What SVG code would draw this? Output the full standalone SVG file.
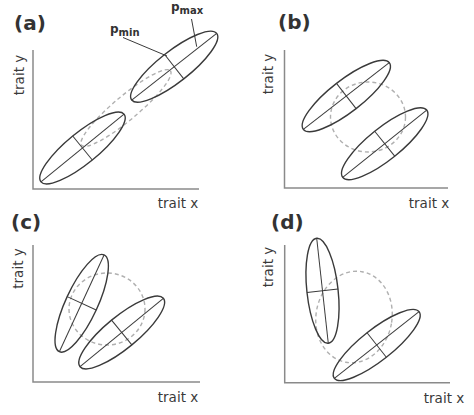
<svg xmlns="http://www.w3.org/2000/svg" width="474" height="415" viewBox="0 0 474 415">
<defs>
<style>
.ax{stroke:#8a8a8a;stroke-width:1.5;fill:none}
.el{stroke:#3a3a3a;stroke-width:1.4;fill:none}
.ln{stroke:#3a3a3a;stroke-width:1;fill:none}
.dash{stroke:#b0b0b0;stroke-width:1.4;fill:none;stroke-dasharray:4 3}
.lead{stroke:#3a3a3a;stroke-width:1;fill:none}
.lbl{font-family:"DejaVu Sans",Verdana,sans-serif;font-size:13.5px;fill:#3a3a3a}
.pl{font-family:"DejaVu Sans",Verdana,sans-serif;font-weight:bold;font-size:20px;fill:#333}
.pm{font-family:"DejaVu Sans",Verdana,sans-serif;font-weight:bold;font-size:12px;fill:#333}
</style>
</defs>
<rect width="474" height="415" fill="#fff"/>

<!-- Panel a -->
<g id="panel-a">
  <text class="pl" x="14" y="30">(a)</text>
  <path class="ax" d="M33,50 V189 H199"/>
  <text class="lbl" x="178" y="208" text-anchor="middle">trait x</text>
  <text class="lbl" transform="translate(24,75) rotate(-90)" text-anchor="middle">trait y</text>
  <g id="a-dashed" transform="translate(126,108) rotate(-40)"><ellipse class="dash" rx="58" ry="12"/></g>
  <g id="a-ell1" transform="translate(82.5,148) rotate(-39.2)">
    <ellipse class="el" rx="53.6" ry="15.5"/><line class="ln" x1="-53.6" y1="0" x2="53.6" y2="0"/><line class="ln" x1="0" y1="-15.5" x2="0" y2="15.5"/>
  </g>
  <g id="a-ell2" transform="translate(174.2,66.7) rotate(-38.1)">
    <ellipse class="el" rx="54" ry="15.5"/><line class="ln" x1="-54" y1="0" x2="54" y2="0"/><line class="ln" x1="0" y1="-15.5" x2="0" y2="15.5"/>
  </g>
  <g id="label-pmin"><text class="pm" x="110" y="33">p<tspan font-size="10" dy="3">min</tspan></text></g>
  <g id="label-pmax"><text class="pm" x="171" y="11">p<tspan font-size="10" dy="3">max</tspan></text></g>
</g>

<!-- Panel b -->
<g id="panel-b">
  <text class="pl" x="278" y="29">(b)</text>
  <path class="ax" d="M284.5,50 V188 H448"/>
  <text class="lbl" x="429" y="208" text-anchor="middle">trait x</text>
  <text class="lbl" transform="translate(273,74) rotate(-90)" text-anchor="middle">trait y</text>
  <g id="b-dashed"><ellipse class="dash" cx="368" cy="117" rx="37.5" ry="35"/></g>
  <g id="b-ell1" transform="translate(346.3,96) rotate(-37.8)">
    <ellipse class="el" rx="54.4" ry="16"/><line class="ln" x1="-54.4" y1="0" x2="54.4" y2="0"/><line class="ln" x1="0" y1="-16" x2="0" y2="16"/>
  </g>
  <g id="b-ell2" transform="translate(384.7,143.7) rotate(-38.7)">
    <ellipse class="el" rx="53.8" ry="16"/><line class="ln" x1="-53.8" y1="0" x2="53.8" y2="0"/><line class="ln" x1="0" y1="-16" x2="0" y2="16"/>
  </g>
</g>

<!-- Panel c -->
<g id="panel-c">
  <text class="pl" x="11" y="229">(c)</text>
  <path class="ax" d="M33,245 V382 H200"/>
  <text class="lbl" x="178" y="402" text-anchor="middle">trait x</text>
  <text class="lbl" transform="translate(23,268.5) rotate(-90)" text-anchor="middle">trait y</text>
  <g id="c-dashed"><ellipse class="dash" cx="107" cy="309" rx="38" ry="36"/></g>
  <g id="c-ell1" transform="translate(81.7,303.3) rotate(-65.2)">
    <ellipse class="el" rx="53.3" ry="16"/><line class="ln" x1="-53.3" y1="0" x2="53.3" y2="0"/><line class="ln" x1="0" y1="-16" x2="0" y2="16"/>
  </g>
  <g id="c-ell2" transform="translate(121.7,332.5) rotate(-39.4)">
    <ellipse class="el" rx="53.9" ry="16"/><line class="ln" x1="-53.9" y1="0" x2="53.9" y2="0"/><line class="ln" x1="0" y1="-16" x2="0" y2="16"/>
  </g>
</g>

<!-- Panel d -->
<g id="panel-d">
  <text class="pl" x="271" y="229">(d)</text>
  <path class="ax" d="M284.7,245 V382.7 H450"/>
  <text class="lbl" x="444" y="403" text-anchor="middle">trait x</text>
  <text class="lbl" transform="translate(273,267) rotate(-90)" text-anchor="middle">trait y</text>
  <g id="d-dashed" transform="translate(354,317) rotate(10)"><ellipse class="dash" rx="38" ry="46"/></g>
  <g id="d-ell1" transform="translate(322.5,290.8) rotate(83.7)">
    <ellipse class="el" rx="52.8" ry="15.6"/><line class="ln" x1="-52.8" y1="0" x2="52.8" y2="0"/><line class="ln" x1="0" y1="-15.6" x2="0" y2="15.6"/>
  </g>
  <g id="d-ell2" transform="translate(376.7,345) rotate(-38.2)">
    <ellipse class="el" rx="53.9" ry="15.6"/><line class="ln" x1="-53.9" y1="0" x2="53.9" y2="0"/><line class="ln" x1="0" y1="-15.6" x2="0" y2="15.6"/>
  </g>
</g>

<g id="connectors">
  <line class="lead" x1="123" y1="37.5" x2="167" y2="56"/>
  <line class="lead" x1="191.5" y1="19" x2="196.7" y2="46.7"/>
</g>
</svg>
